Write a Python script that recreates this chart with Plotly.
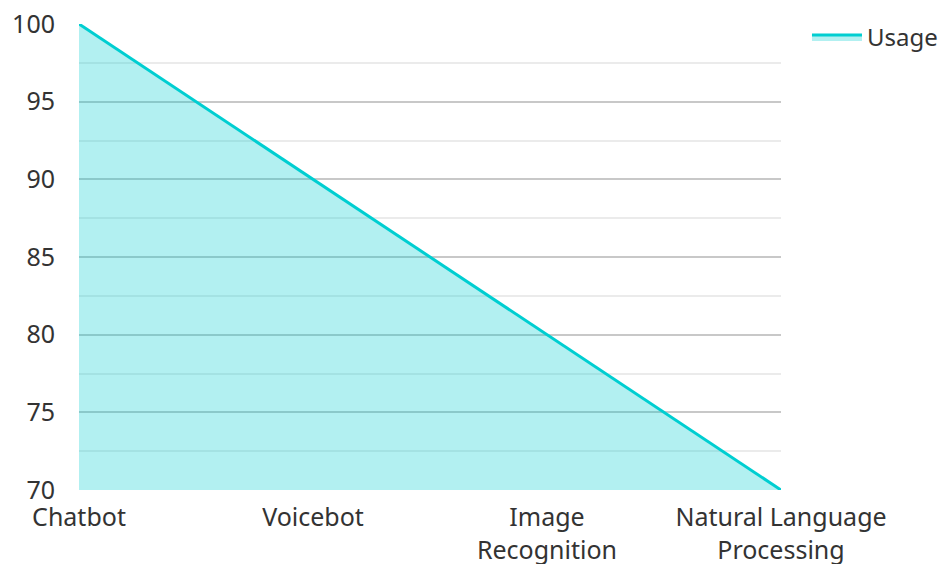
import plotly.graph_objects as go

categories = ["Chatbot", "Voicebot", "Image<br>Recognition", "Natural Language<br>Processing"]
usage = [100, 90, 80, 70]
series_name = "Usage"

fig = go.Figure()
fig.add_trace(go.Scatter(
    x=categories, y=usage, name=series_name, mode="lines",
    line=dict(color="#00CED1", width=3),
    fill="tozeroy", fillcolor="rgba(0,206,209,0.3)",
))

fig.update_layout(
    width=939, height=564,
    margin=dict(l=79, r=158, t=24, b=74),
    paper_bgcolor="white", plot_bgcolor="white",
    font=dict(family="Noto Sans", size=24, color="#333333"),
    showlegend=True,
    legend=dict(xref="container", yref="container", x=0.8594, y=0.9734,
                xanchor="left", yanchor="top", itemwidth=50,
                font=dict(size=24, color="#333333"), bgcolor="rgba(0,0,0,0)"),
    xaxis=dict(type="category", range=[0, 3], showgrid=False, zeroline=False,
               showline=False, ticks="", tickfont=dict(size=25),
               ticklabelstandoff=10, automargin=False,
               ticklabeloverflow="allow"),
    yaxis=dict(range=[70, 100], dtick=5, tick0=70, showgrid=True,
               gridcolor="#c8c8c8", gridwidth=1.5, zeroline=False,
               showline=False, ticks="", ticklabelstandoff=23,
               tickfont=dict(size=25), automargin=False,
               ticklabeloverflow="allow",
               minor=dict(dtick=2.5, tick0=70, showgrid=True,
                          gridcolor="#ebebeb", gridwidth=1.5)),
)

fig.write_html(
    "out.html",
    config={"displayModeBar": False},
    post_script="document.body.style.margin='0';document.body.style.overflow='hidden';",
)
